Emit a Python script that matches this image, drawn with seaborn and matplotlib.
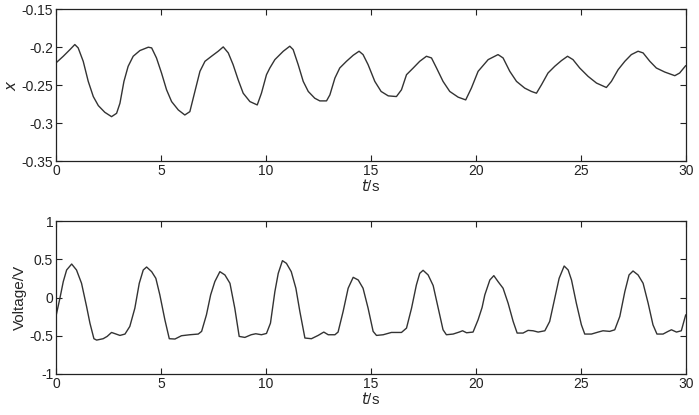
import matplotlib
matplotlib.use("Agg")
import matplotlib.pyplot as plt
import pandas as pd
import seaborn as sns

# top panel: displacement x
t_x = [0.0, 0.35, 0.67, 0.90, 1.06, 1.30, 1.54, 1.78, 2.02, 2.33, 2.65, 2.89,
       3.05, 3.24, 3.44, 3.68, 4.0, 4.40, 4.56, 4.79, 5.03, 5.27, 5.51, 5.83,
       6.14, 6.38, 6.62, 6.86, 7.10, 7.41, 7.73, 7.97, 8.21, 8.44, 8.68, 8.92,
       9.24, 9.59, 9.79, 10.03, 10.19, 10.43, 10.83, 11.14, 11.30, 11.54,
       11.78, 12.02, 12.33, 12.57, 12.89, 13.05, 13.29, 13.52, 13.84, 14.16,
       14.44, 14.63, 14.87, 15.19, 15.49, 15.83, 16.22, 16.46, 16.70, 17.02,
       17.33, 17.65, 17.89, 18.13, 18.44, 18.76, 19.16, 19.52, 19.79, 20.11,
       20.59, 21.06, 21.30, 21.62, 21.94, 22.33, 22.65, 22.89, 23.13, 23.44,
       23.76, 24.08, 24.37, 24.63, 24.95, 25.35, 25.75, 26.22, 26.46, 26.78,
       27.10, 27.41, 27.73, 27.97, 28.29, 28.60, 29.0, 29.48, 29.71, 30.0]
x_vals = [-0.2207, -0.2119, -0.2031, -0.1965, -0.2009, -0.2185, -0.2449,
          -0.2648, -0.2767, -0.2855, -0.2912, -0.2868, -0.2736, -0.2449,
          -0.2251, -0.2119, -0.2044, -0.2000, -0.2009, -0.2141, -0.2339,
          -0.2559, -0.2714, -0.2824, -0.2890, -0.2846, -0.2581, -0.2317,
          -0.2185, -0.2119, -0.2053, -0.1996, -0.2075, -0.2229, -0.2427,
          -0.2604, -0.2714, -0.2758, -0.2604, -0.2361, -0.2273, -0.2163,
          -0.2053, -0.1987, -0.2031, -0.2229, -0.2449, -0.2581, -0.2670,
          -0.2705, -0.2705, -0.2626, -0.2405, -0.2273, -0.2185, -0.2106,
          -0.2053, -0.2097, -0.2229, -0.2449, -0.2581, -0.2639, -0.2648,
          -0.2559, -0.2361, -0.2273, -0.2185, -0.2119, -0.2141, -0.2273,
          -0.2449, -0.2581, -0.2656, -0.2692, -0.2537, -0.2317, -0.2163,
          -0.2097, -0.2141, -0.2317, -0.2449, -0.2537, -0.2581, -0.2604,
          -0.2493, -0.2339, -0.2251, -0.2176, -0.2119, -0.2163, -0.2273,
          -0.2383, -0.2471, -0.2529, -0.2449, -0.2295, -0.2185, -0.2097,
          -0.2053, -0.2075, -0.2185, -0.2273, -0.2326, -0.2374, -0.2339,
          -0.2242]

# bottom panel: voltage
t_v = [0.0, 0.19, 0.35, 0.51, 0.75, 0.98, 1.22, 1.46, 1.62, 1.81, 1.94, 2.25,
       2.44, 2.65, 2.86, 3.05, 3.29, 3.52, 3.76, 3.97, 4.16, 4.32, 4.56, 4.76,
       4.95, 5.19, 5.40, 5.67, 5.98, 6.38, 6.78, 6.94, 7.17, 7.37, 7.57, 7.81,
       8.05, 8.29, 8.52, 8.73, 9.0, 9.30, 9.52, 9.79, 10.03, 10.22, 10.43,
       10.59, 10.79, 10.98, 11.21, 11.43, 11.62, 11.86, 12.17, 12.49, 12.76,
       12.97, 13.29, 13.44, 13.68, 13.92, 14.16, 14.40, 14.63, 14.87, 15.11,
       15.27, 15.59, 15.98, 16.46, 16.70, 16.94, 17.17, 17.33, 17.49, 17.73,
       17.97, 18.21, 18.44, 18.60, 18.92, 19.21, 19.37, 19.56, 19.87, 20.11,
       20.30, 20.43, 20.67, 20.86, 21.06, 21.30, 21.54, 21.78, 21.97, 22.25,
       22.49, 22.73, 22.97, 23.29, 23.52, 23.76, 23.97, 24.21, 24.40, 24.56,
       24.79, 25.03, 25.19, 25.51, 25.83, 26.06, 26.38, 26.62, 26.86, 27.10,
       27.30, 27.49, 27.73, 27.97, 28.21, 28.44, 28.63, 28.92, 29.16, 29.32,
       29.56, 29.79, 30.0]
v_vals = [-0.248, -0.009, 0.209, 0.361, 0.439, 0.361, 0.187, -0.117, -0.335,
          -0.539, -0.557, -0.539, -0.509, -0.457, -0.478, -0.496, -0.478,
          -0.378, -0.139, 0.187, 0.361, 0.400, 0.339, 0.252, 0.035, -0.291,
          -0.539, -0.543, -0.500, -0.487, -0.478, -0.443, -0.226, 0.035,
          0.209, 0.339, 0.296, 0.187, -0.139, -0.509, -0.522, -0.487, -0.474,
          -0.487, -0.470, -0.335, 0.078, 0.317, 0.483, 0.448, 0.339, 0.122,
          -0.183, -0.530, -0.539, -0.496, -0.452, -0.487, -0.487, -0.452,
          -0.183, 0.122, 0.265, 0.230, 0.122, -0.139, -0.443, -0.496, -0.487,
          -0.457, -0.457, -0.400, -0.139, 0.165, 0.317, 0.357, 0.296, 0.157,
          -0.139, -0.422, -0.487, -0.478, -0.452, -0.435, -0.461, -0.452,
          -0.291, -0.130, 0.035, 0.230, 0.287, 0.209, 0.122, -0.074, -0.313,
          -0.465, -0.465, -0.430, -0.435, -0.452, -0.435, -0.313, -0.009,
          0.252, 0.413, 0.361, 0.230, -0.074, -0.357, -0.478, -0.478, -0.452,
          -0.435, -0.443, -0.422, -0.248, 0.078, 0.296, 0.348, 0.296, 0.187,
          -0.074, -0.357, -0.478, -0.478, -0.443, -0.422, -0.452, -0.435,
          -0.226]

xticks = [0, 5, 10, 15, 20, 25, 30]
yticks_top = [-0.35, -0.3, -0.25, -0.2, -0.15]
yticks_bot = [-1, -0.5, 0, 0.5, 1]

df_x = pd.DataFrame({'t': t_x, 'x': x_vals})
df_v = pd.DataFrame({'t': t_v, 'v': v_vals})

sns.set_style("ticks")
plt.rcParams['font.family'] = ['Liberation Sans', 'DejaVu Sans']
plt.rcParams['font.size'] = 10
plt.rcParams['xtick.direction'] = 'in'
plt.rcParams['ytick.direction'] = 'in'

fig = plt.figure(figsize=(6.99, 4.15), dpi=100)
ax1 = fig.add_axes([0.080, 0.611, 0.901, 0.367])
ax2 = fig.add_axes([0.080, 0.099, 0.901, 0.368])

sns.lineplot(data=df_x, x='t', y='x', ax=ax1, color='#333333', linewidth=1.0)
sns.lineplot(data=df_v, x='t', y='v', ax=ax2, color='#333333', linewidth=1.0)

for ax, yt, lims in [(ax1, yticks_top, (-0.35, -0.15)), (ax2, yticks_bot, (-1, 1))]:
    ax.set_xlim(0, 30)
    ax.set_ylim(*lims)
    ax.set_xticks(xticks)
    ax.set_xticklabels([str(v) for v in xticks])
    ax.set_yticks(yt)
    ax.set_yticklabels([('%g' % v) for v in yt])
    ax.tick_params(top=True, right=True, length=4, width=0.8, pad=2,
                   labelsize=10, colors='#222222')
    for s in ax.spines.values():
        s.set_linewidth(0.9)
        s.set_color('#222222')
    ax.set_xlabel(r'$\it{t}$/s', fontsize=11, labelpad=0)

ax1.set_ylabel(r'$\it{x}$', fontsize=11, labelpad=2)
ax2.set_ylabel('Voltage/V', fontsize=11, labelpad=2)

fig.savefig('out.png', dpi=100)
